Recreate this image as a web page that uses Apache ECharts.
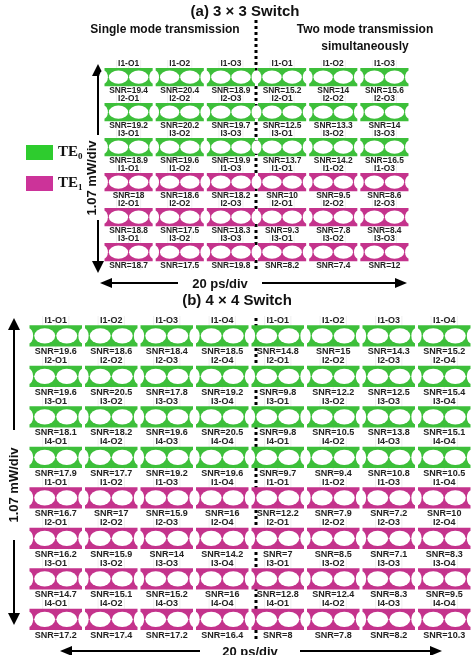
<!DOCTYPE html>
<html><head><meta charset="utf-8">
<script src="https://cdn.jsdelivr.net/npm/echarts@6/dist/echarts.min.js"></script>
<style>html,body{margin:0;padding:0;background:#fff}#c{width:474px;height:655px}</style>
</head><body><div id="c"></div>
<script>
// (a) 3x3 switch: rows = I1..I3 (TE0) then I1..I3 (TE1); cols = O1..O3
const snrA_single = [[19.4,20.4,18.9],[19.2,20.2,19.7],[18.9,19.6,19.9],[18,18.6,18.2],[18.8,17.5,18.3],[18.7,17.5,19.8]];
const snrA_two    = [[15.2,14,15.6],[12.5,13.3,14],[13.7,14.2,16.5],[10,9.5,8.6],[9.3,7.8,8.4],[8.2,7.4,12]];
// (b) 4x4 switch: rows = I1..I4 (TE0) then I1..I4 (TE1); cols = O1..O4
const snrB_single = [[19.6,18.6,18.4,18.5],[19.6,20.5,17.8,19.2],[18.1,18.2,19.6,20.5],[17.9,17.7,19.2,19.6],[16.7,17,15.9,16],[16.2,15.9,14,14.2],[14.7,15.1,15.2,16],[17.2,17.4,17.2,16.4]];
const snrB_two    = [[14.8,15,14.3,15.2],[9.8,12.2,12.5,15.4],[9.8,10.5,13.8,15.1],[9.7,9.4,10.8,10.5],[12.2,7.9,7.2,10],[7,8.5,7.1,8.3],[12.8,12.4,8.3,9.5],[8,7.8,8.2,10.3]];
const titles = ['(a) 3 × 3 Switch','(b) 4 × 4 Switch'];
const axisLabelY = '1.07 mW/div';
const axisLabelX = '20 ps/div';
const GREEN = '#3dbf3a', MAG = '#c4338c';

function buildData(single, two, n){
  const out=[];
  for(let r=0;r<single.length;r++){
    for(let c=0;c<n;c++){
      out.push([c, r, single[r][c], (r%n)+1, c+1, r<n?0:1]);
      out.push([c+n, r, two[r][c], (r%n)+1, c+1, r<n?0:1]);
    }
  }
  return out;
}
function renderCell(params, api){
  const p = api.coord([api.value(0), api.value(1)]);
  const s = api.size([1,1]);
  const w = s[0], h = s[1];
  const col = api.value(5)===0?GREEN:MAG;
  const x0 = p[0]-w/2+1.5, ew = w-3;
  const top = p[1]-h*0.27, bot = p[1]+h*0.25, eh = bot-top;
  const children = [];
  for(let k=1;k<4;k++) children.push({type:'line',shape:{x1:x0+ew*k/4,y1:p[1]-h/2,x2:x0+ew*k/4,y2:p[1]+h/2},style:{stroke:'#e6e6e6',lineWidth:0.6}});
  children.push({type:'line',shape:{x1:x0,y1:p[1],x2:x0+ew,y2:p[1]},style:{stroke:'#e6e6e6',lineWidth:0.6}});
  children.push({type:'rect',shape:{x:x0,y:top,width:ew,height:eh},style:{fill:col}});
  const cy = top+eh*0.5, ry = eh*0.36, rx = ew*0.2;
  [0.29,0.71].forEach(f=>{
    children.push({type:'circle',shape:{cx:0,cy:0,r:rx},x:x0+ew*f,y:cy,scaleY:ry/rx,style:{fill:'#fff'}});
  });
  children.push({type:'circle',shape:{cx:0,cy:0,r:rx*0.45},x:x0-rx*0.1,y:cy,scaleY:ry/(rx*0.45),style:{fill:'#fff'}});
  children.push({type:'circle',shape:{cx:0,cy:0,r:rx*0.45},x:x0+ew+rx*0.1,y:cy,scaleY:ry/(rx*0.45),style:{fill:'#fff'}});
  const fs = Math.min(9, h*0.24);
  children.push({type:'text',x:p[0],y:p[1]-h*0.39,style:{text:'I'+api.value(3)+'-O'+api.value(4),fill:'#222',font:'bold '+fs+'px "Liberation Sans"',align:'center',verticalAlign:'middle'}});
  children.push({type:'text',x:p[0],y:p[1]+h*0.38,style:{text:'SNR='+api.value(2),fill:'#222',font:'bold '+fs+'px "Liberation Sans"',align:'center',verticalAlign:'middle'}});
  return {type:'group',children};
}
const chart = echarts.init(document.getElementById('c'));
const hide = {show:false};
function axes(n,rows,idx){
  return {
    x:{type:'category',gridIndex:idx,data:Array.from({length:2*n},(_, i)=>i),axisLine:hide,axisTick:hide,axisLabel:hide,splitLine:hide},
    y:{type:'category',gridIndex:idx,inverse:true,data:Array.from({length:rows},(_, i)=>i),axisLine:hide,axisTick:hide,axisLabel:hide,splitLine:hide}
  };
}
const aA=axes(3,6,0), aB=axes(4,8,1);
const arrow = (x1,y1,x2,y2)=>({type:'line',shape:{x1,y1,x2,y2},style:{stroke:'#000',lineWidth:2}});
const tri = (pts)=>({type:'polygon',shape:{points:pts},style:{fill:'#000'}});
const txt = (x,y,t,fs,extra)=>Object.assign({type:'text',x,y,style:{text:t,font:'bold '+fs+'px "Liberation Sans"',fill:'#111',align:'center',verticalAlign:'middle'}},extra||{});
const te = (y,sub)=>({type:'text',x:58,y,style:{text:'TE{s|'+sub+'}',font:'bold 15px "Liberation Serif"',fill:'#111',verticalAlign:'middle',rich:{s:{font:'bold 9px "Liberation Serif"',verticalAlign:'bottom',padding:[9,0,0,0]}}}});
chart.setOption({
  animation:false,
  grid:[{left:103,right:64,top:60,height:210},{left:28,right:2,top:316,height:324}],
  xAxis:[aA.x,aB.x], yAxis:[aA.y,aB.y],
  series:[
    {type:'custom',xAxisIndex:0,yAxisIndex:0,data:buildData(snrA_single,snrA_two,3),renderItem:renderCell},
    {type:'custom',xAxisIndex:1,yAxisIndex:1,data:buildData(snrB_single,snrB_two,4),renderItem:renderCell}
  ],
  graphic:[
    txt(245,12,titles[0],15),
    txt(165,30,'Single mode transmission',12),
    txt(365,30,'Two mode transmission',12),
    txt(365,47,'simultaneously',12),
    {type:'line',shape:{x1:256,y1:20,x2:256,y2:272},style:{stroke:'#000',lineWidth:3,lineDash:[3,3]}},
    {type:'line',shape:{x1:256,y1:318,x2:256,y2:640},style:{stroke:'#000',lineWidth:3,lineDash:[3,3]}},
    arrow(98,75,98,135), arrow(98,220,98,262), tri([[92,76],[104,76],[98,64]]), tri([[92,261],[104,261],[98,273]]),
    txt(92,178,axisLabelY,13,{rotation:Math.PI/2}),
    arrow(112,283,178,283), arrow(262,283,395,283), tri([[112,278],[112,288],[100,283]]), tri([[395,278],[395,288],[407,283]]),
    txt(220,284,axisLabelX,13),
    {type:'rect',shape:{x:26,y:145,width:27,height:15},style:{fill:'#2ecc2e'}},
    {type:'rect',shape:{x:26,y:176,width:27,height:15},style:{fill:'#cc3399'}},
    te(152,'0'), te(183,'1'),
    txt(237,301,titles[1],15),
    arrow(14,330,14,430), arrow(14,540,14,615), tri([[8,330],[20,330],[14,318]]), tri([[8,613],[20,613],[14,625]]),
    txt(14,485,axisLabelY,13,{rotation:Math.PI/2}),
    arrow(72,651,200,651), arrow(300,651,430,651), tri([[72,646],[72,656],[60,651]]), tri([[430,646],[430,656],[442,651]]),
    txt(250,652,axisLabelX,13)
  ]
});
</script></body></html>
